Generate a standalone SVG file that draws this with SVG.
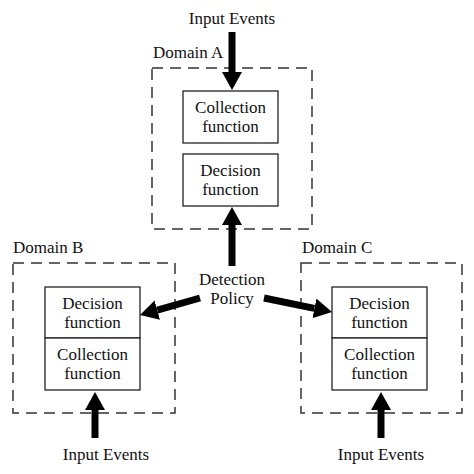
<svg xmlns="http://www.w3.org/2000/svg" width="474" height="474" viewBox="0 0 474 474">
<defs>
<style>
text{font-family:"Liberation Serif","Times New Roman",serif;font-size:17px;fill:#111}
.c{text-anchor:middle}
.dom{fill:none;stroke:#333;stroke-width:1.5;stroke-dasharray:11 7}
.box{fill:#fff;stroke:#222;stroke-width:1.3}
.arr{stroke:#000;stroke-width:7;fill:none;marker-end:url(#ah)}
</style>
<marker id="ah" markerUnits="userSpaceOnUse" markerWidth="18" markerHeight="20" viewBox="0 -10 18 20" refX="0" refY="0" orient="auto">
<path d="M0,-10 L18,0 L0,10 z" fill="#000"/>
</marker>
</defs>
<rect width="474" height="474" fill="#fff"/>
<g id="domainA">
<rect class="dom" x="152" y="68" width="160" height="161"/>
<text x="153" y="58">Domain A</text>
</g>
<g id="collectionA">
<rect class="box" x="183" y="91" width="95" height="52"/>
<text class="c" x="230.5" y="112.5">Collection</text>
<text class="c" x="230.5" y="131.5">function</text>
</g>
<g id="decisionA">
<rect class="box" x="183" y="154" width="95" height="52"/>
<text class="c" x="230.5" y="175.5">Decision</text>
<text class="c" x="230.5" y="194.5">function</text>
</g>
<g id="domainB">
<rect class="dom" x="13" y="263" width="162" height="150"/>
<text x="13" y="253">Domain B</text>
</g>
<g id="decisionB">
<rect class="box" x="45" y="287" width="95" height="51"/>
<text class="c" x="92.5" y="308.5">Decision</text>
<text class="c" x="92.5" y="327.5">function</text>
</g>
<g id="collectionB">
<rect class="box" x="45" y="338" width="95" height="52"/>
<text class="c" x="92.5" y="360">Collection</text>
<text class="c" x="92.5" y="379">function</text>
</g>
<g id="domainC">
<rect class="dom" x="301" y="263" width="161" height="150"/>
<text x="302" y="253">Domain C</text>
</g>
<g id="decisionC">
<rect class="box" x="332" y="287" width="95" height="51"/>
<text class="c" x="379.5" y="308.5">Decision</text>
<text class="c" x="379.5" y="327.5">function</text>
</g>
<g id="collectionC">
<rect class="box" x="332" y="338" width="95" height="52"/>
<text class="c" x="379.5" y="360">Collection</text>
<text class="c" x="379.5" y="379">function</text>
</g>
<g id="inputA"><text class="c" x="232" y="24">Input Events</text></g>
<g id="inputB"><text class="c" x="106" y="460">Input Events</text></g>
<g id="inputC"><text class="c" x="381" y="460">Input Events</text></g>
<g id="policy">
<text class="c" x="232" y="284.5">Detection</text>
<text class="c" x="232" y="303.5">Policy</text>
</g>
<g id="connectors">
<line class="arr" x1="232" y1="32" x2="232" y2="72"/>
<line class="arr" x1="232" y1="266" x2="232" y2="225"/>
<line class="arr" x1="95" y1="438" x2="95" y2="410"/>
<line class="arr" x1="381" y1="438" x2="381" y2="410"/>
<line class="arr" x1="200" y1="298" x2="157.3" y2="310.1"/>
<line class="arr" x1="264" y1="298" x2="314.4" y2="308.4"/>
</g>
</svg>
